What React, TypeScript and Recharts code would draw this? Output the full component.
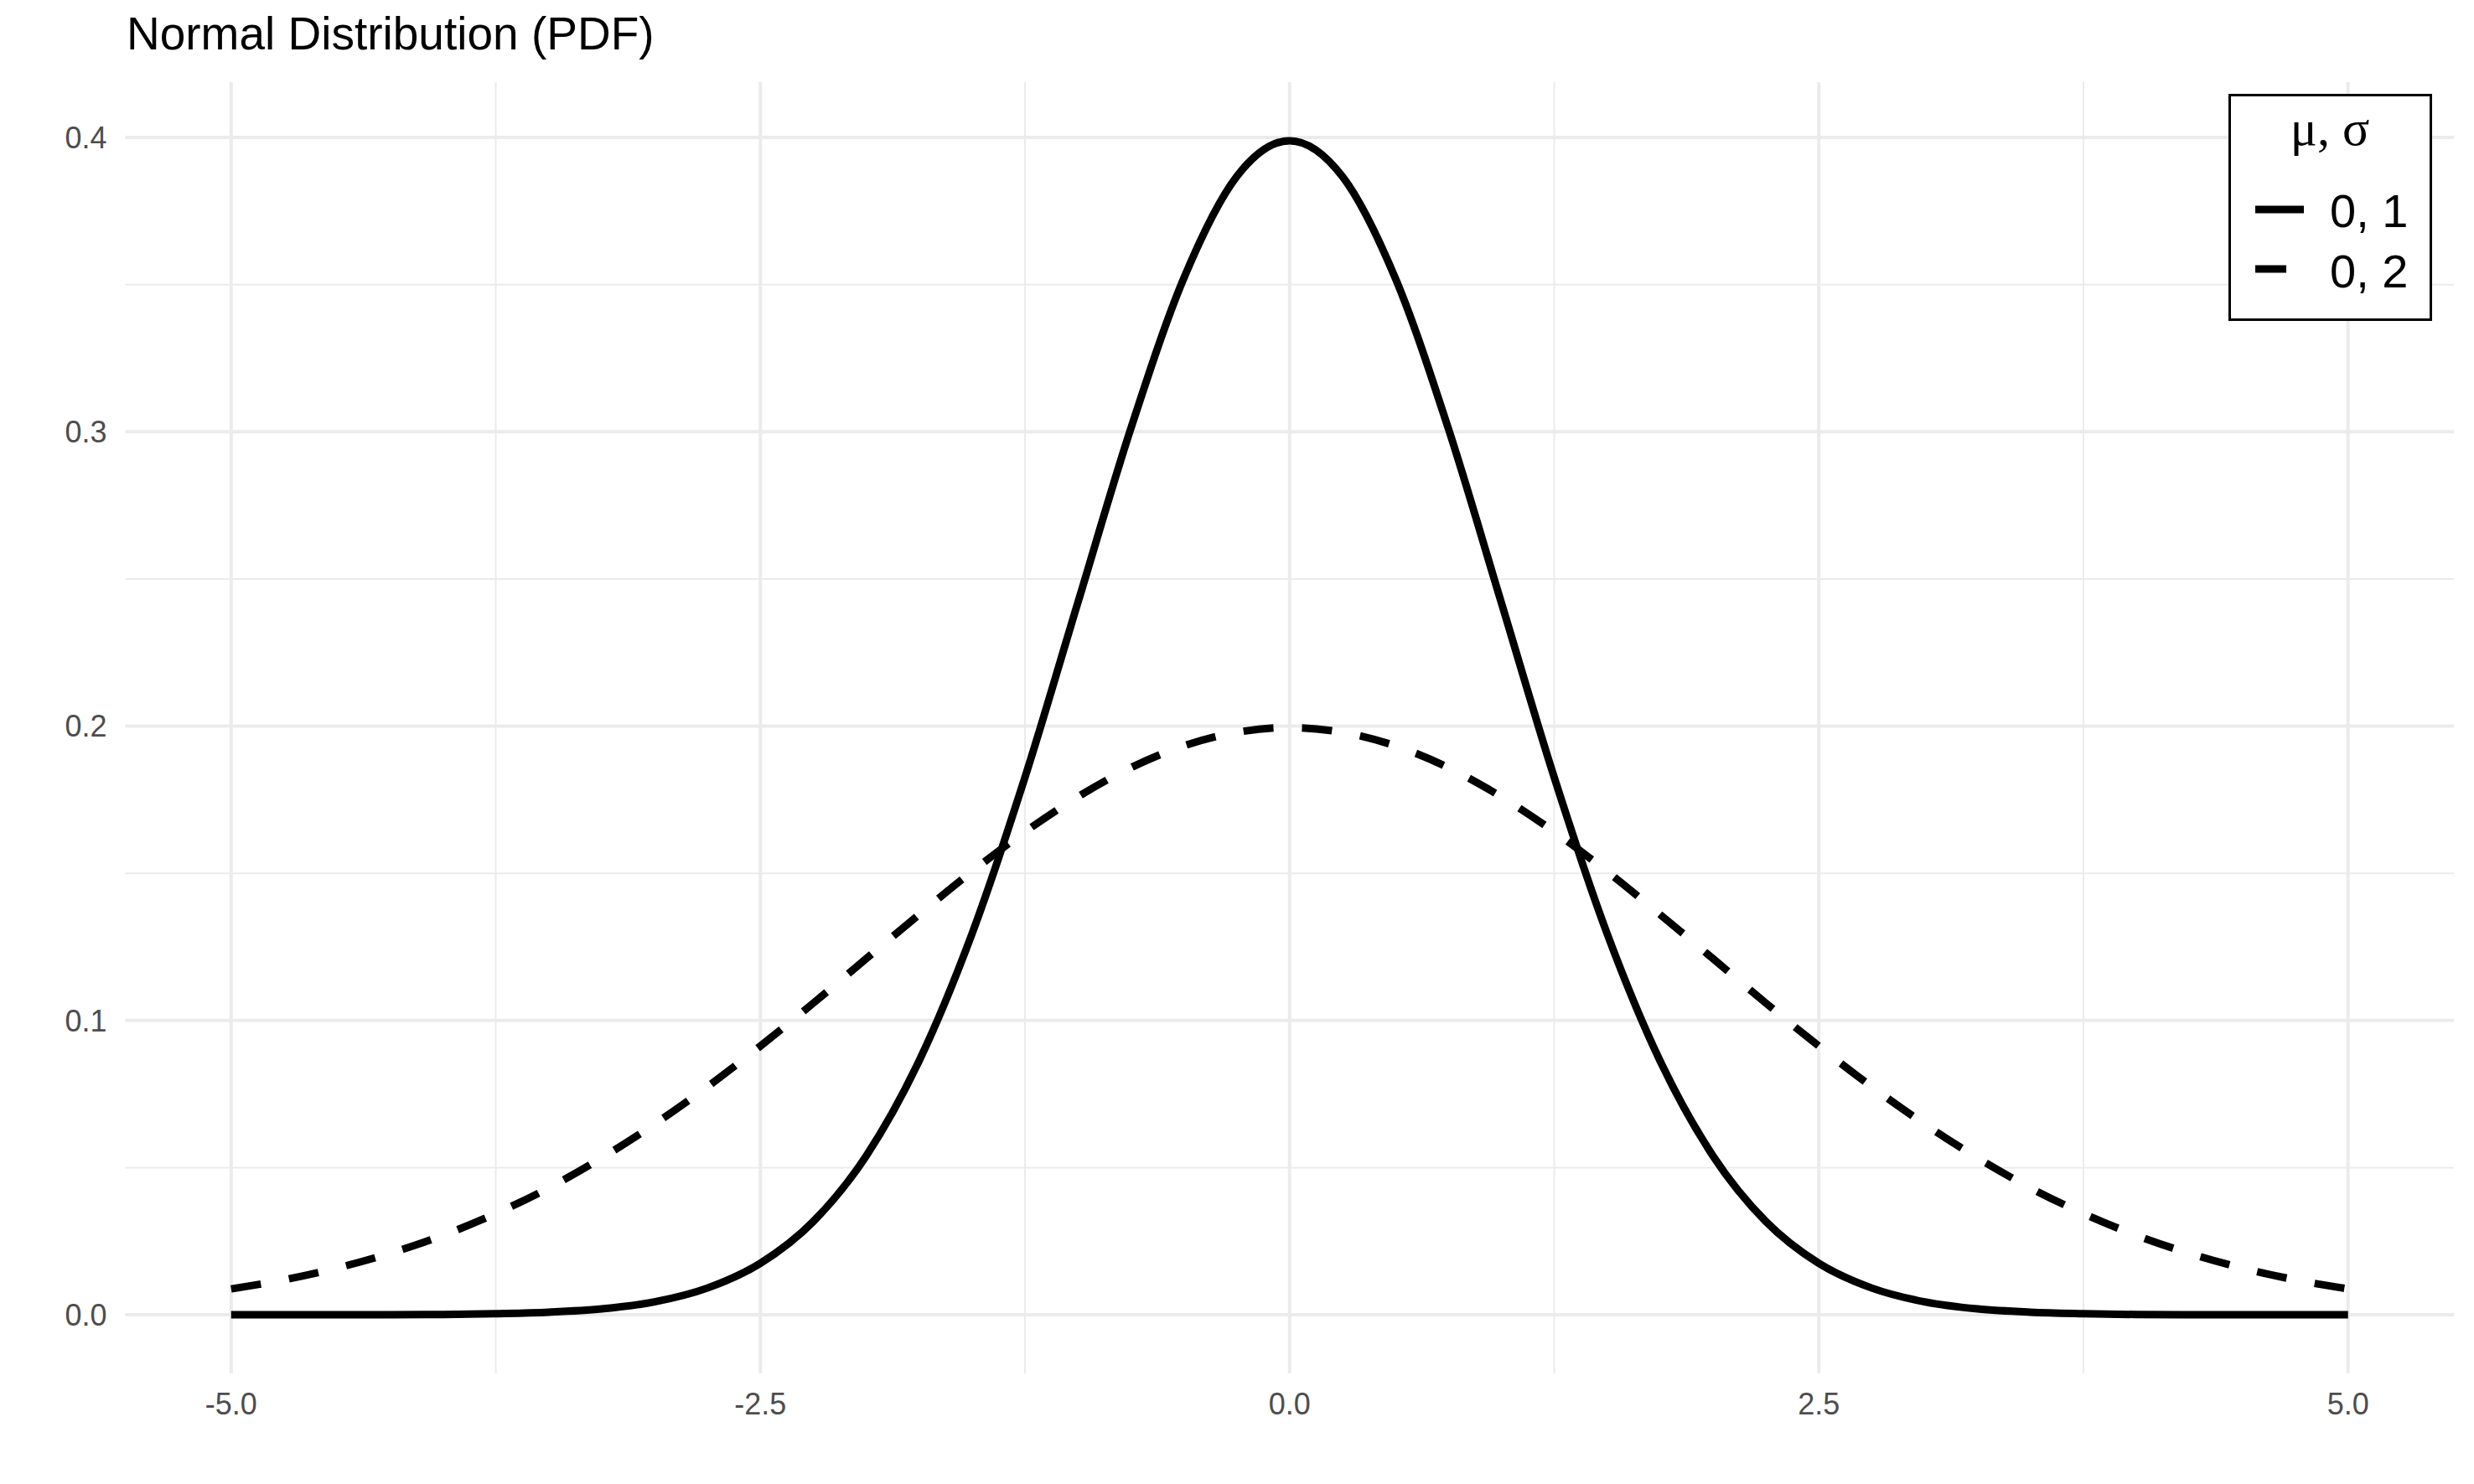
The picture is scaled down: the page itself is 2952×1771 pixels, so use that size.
import { LineChart, Line, XAxis, YAxis, CartesianGrid } from 'recharts'

// x positions sampled along the curves
const xs = [
  -5, -4.75, -4.5, -4.25, -4, -3.75, -3.5, -3.25, -3, -2.75, -2.5, -2.25, -2, -1.75, -1.5, -1.25, -1, -0.75, -0.5, -0.25,
  0, 0.25, 0.5, 0.75, 1, 1.25, 1.5, 1.75, 2, 2.25, 2.5, 2.75, 3, 3.25, 3.5, 3.75, 4, 4.25, 4.5, 4.75, 5,
]

// mu = 0, sigma = 1
const sd1 = [
  0.0, 0.0, 0.0, 0.0, 0.0001, 0.0004, 0.0009, 0.002, 0.0044, 0.0091, 0.0175, 0.0317, 0.054, 0.0863, 0.1295, 0.1826, 0.242, 0.3011, 0.3521, 0.3867,
  0.3989, 0.3867, 0.3521, 0.3011, 0.242, 0.1826, 0.1295, 0.0863, 0.054, 0.0317, 0.0175, 0.0091, 0.0044, 0.002, 0.0009, 0.0004, 0.0001, 0.0, 0.0, 0.0, 0.0,
]

// mu = 0, sigma = 2
const sd2 = [
  0.0088, 0.0119, 0.0159, 0.0209, 0.027, 0.0344, 0.0431, 0.0533, 0.0648, 0.0775, 0.0913, 0.1059, 0.121, 0.136, 0.1506, 0.1641, 0.176, 0.1859, 0.1933, 0.1979,
  0.1995, 0.1979, 0.1933, 0.1859, 0.176, 0.1641, 0.1506, 0.136, 0.121, 0.1059, 0.0913, 0.0775, 0.0648, 0.0533, 0.0431, 0.0344, 0.027, 0.0209, 0.0159, 0.0119, 0.0088,
]

const xTicks = [-5, -2.5, 0, 2.5, 5]
const xMinor = [-3.75, -1.25, 1.25, 3.75]
const yTicks = [0, 0.1, 0.2, 0.3, 0.4]
const yMinor = [0.05, 0.15, 0.25, 0.35]

const legendItems = [
  { label: '0, 1', dash: undefined, len: 58 },
  { label: '0, 2', dash: '37 40', len: 58 },
]

const data = xs.map((x, i) => ({ x, a: sd1[i], b: sd2[i] }))

const sans = '"Liberation Sans", Arial, sans-serif'
const grid = '#ebebeb'
const tickStyle = { fontSize: 36, fill: '#4d4d4d', fontFamily: sans }

function Legend() {
  return (
    <div
      style={{
        position: 'absolute',
        left: 2659,
        top: 112,
        width: 243,
        height: 271,
        boxSizing: 'border-box',
        border: '3px solid #000',
        background: '#fff',
      }}
    >
      <svg width={237} height={265} style={{ display: 'block' }}>
        <text x={118} y={58} textAnchor="middle" fontSize={60} fontFamily='"Liberation Serif", "DejaVu Serif", serif'>
          μ, σ
        </text>
        {legendItems.map((it, i) => (
          <g key={it.label}>
            <line
              x1={29}
              x2={29 + it.len}
              y1={135 + i * 71}
              y2={135 + i * 71}
              stroke="#000"
              strokeWidth={9}
              strokeDasharray={it.dash}
            />
            <text x={118} y={156 + i * 72} fontSize={56} fontFamily={sans}>
              {it.label}
            </text>
          </g>
        ))}
      </svg>
    </div>
  )
}

export default function App() {
  return (
    <div style={{ position: 'absolute', left: 0, top: 0, width: 2952, height: 1771, background: '#fff' }}>
      <div style={{ position: 'absolute', left: 151, top: 13, fontSize: 55, lineHeight: 1, fontFamily: sans, color: '#000' }}>
        Normal Distribution (PDF)
      </div>
      <LineChart width={2952} height={1771} data={data} margin={{ top: 98, right: 24, bottom: 0, left: 0 }}>
        <CartesianGrid horizontalValues={yMinor} verticalValues={xMinor} stroke={grid} strokeWidth={2} />
        <CartesianGrid horizontalValues={yTicks} verticalValues={xTicks} stroke={grid} strokeWidth={4} />
        <XAxis
          dataKey="x"
          type="number"
          domain={[-5.5, 5.5]}
          ticks={xTicks}
          allowDataOverflow
          height={132}
          axisLine={false}
          tickLine={false}
          tickSize={0}
          tickMargin={23}
          tick={tickStyle}
          tickFormatter={(v: number) => v.toFixed(1)}
        />
        <YAxis
          type="number"
          domain={[-0.0199, 0.4188]}
          ticks={yTicks}
          allowDataOverflow
          width={149.5}
          axisLine={false}
          tickLine={false}
          tickSize={0}
          tickMargin={22}
          tick={tickStyle}
          tickFormatter={(v: number) => v.toFixed(1)}
        />
        <Line type="monotone" dataKey="b" stroke="#000" strokeWidth={9} strokeDasharray="36 34" dot={false} isAnimationActive={false} />
        <Line type="monotone" dataKey="a" stroke="#000" strokeWidth={9} dot={false} isAnimationActive={false} />
      </LineChart>
      <Legend />
    </div>
  )
}
